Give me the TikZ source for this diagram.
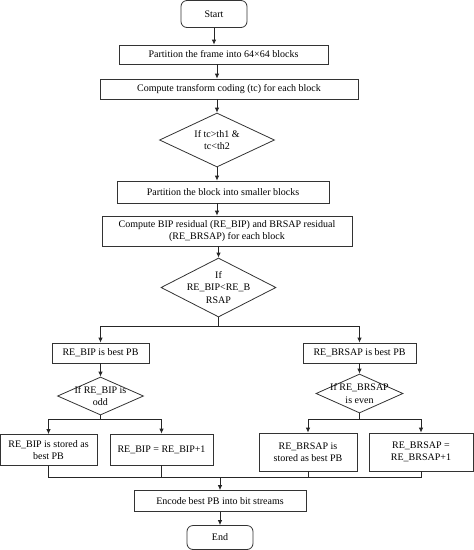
\documentclass[tikz,border=0pt]{standalone}
\usepackage{fontspec}
\setmainfont{Liberation Serif}
\usetikzlibrary{positioning, arrows.meta, shapes.geometric, calc}

\begin{document}
\begin{tikzpicture}[
    x=1pt, y=-1pt,
    font=\fontsize{10}{12.5}\selectfont,
    line width=0.8pt,
    process/.style={draw=black!80, rectangle, align=center, inner sep=1pt},
    terminal/.style={draw=black!80, rectangle, rounded corners=6pt, minimum width=66, inner sep=1pt},
    decision/.style={draw=black!80, diamond, inner sep=0pt},
    txt/.style={align=center, inner sep=0pt},
    arrow/.style={-{Latex[length=5pt,width=4.5pt]}, draw=black!85},
    link/.style={draw=black!85}
]
\useasboundingbox (0,0) rectangle (474,550);

% Macros for the split and join rows
\def\forkY{326}
\def\subY{419}
\def\joinY{477}

% ==========================================
% Main column
\node[terminal, minimum height=27] (start) at (214,14) {Start};
\node[process, minimum width=209, minimum height=19] (frame) at (223.5,54.5) {Partition the frame into 64×64 blocks};
\node[process, minimum width=258, minimum height=20] (tc) at (229,89) {Compute transform coding (tc) for each block};
\node[decision, minimum width=115, minimum height=54] (thr) at (217,140) {};
\node[txt] at (thr.center) {If tc>th1 \&\\tc<th2};
\node[process, minimum width=212, minimum height=22] (split) at (223,192) {Partition the block into smaller blocks};
\node[process, minimum width=250, minimum height=30] (resid) at (227,231) {Compute BIP residual (RE\_BIP) and BRSAP residual\\(RE\_BRSAP) for each block};
\node[decision, minimum width=115, minimum height=59] (cmp) at (218.5,287.5) {};
\node[txt] at (cmp.center) {If\\RE\_BIP<RE\_B\\RSAP};

% ==========================================
% BIP branch
\node[process, minimum width=97, minimum height=20] (bipbest) at (100.5,353) {RE\_BIP is best PB};
\node[decision, minimum width=86, minimum height=38] (odd) at (100.5,396) {};
\node[txt] at (odd.center) {If RE\_BIP is\\odd};
\node[process, minimum width=97, minimum height=31] (bipstore) at (48.5,450) {RE\_BIP is stored as\\best PB};
\node[process, minimum width=103, minimum height=31] (bipinc) at (161.5,449.5) {RE\_BIP = RE\_BIP+1};

% ==========================================
% BRSAP branch
\node[process, minimum width=113, minimum height=20] (brbest) at (359.5,353) {RE\_BRSAP is best PB};
\node[decision, minimum width=87, minimum height=39] (even) at (359.5,393.5) {};
\node[txt] at (even.center) {If RE\_BRSAP\\is even};
\node[process, minimum width=98, minimum height=38] (brstore) at (308,452) {RE\_BRSAP is\\stored as best PB};
\node[process, minimum width=104, minimum height=38] (brinc) at (421,452) {RE\_BRSAP =\\RE\_BRSAP+1};

% ==========================================
% Tail
\node[process, minimum width=172, minimum height=21] (encode) at (220,501) {Encode best PB into bit streams};
\node[terminal, minimum height=24] (stop) at (220,537.5) {End};

% Junction points
\coordinate (fork) at (cmp.south |- 0,\forkY);
\coordinate (forkbip) at (odd.south |- 0,\subY);
\coordinate (forkbr) at (even.south |- 0,\subY);
\coordinate (join) at (encode.north |- 0,\joinY);

% ==========================================
% Connectors
\draw[arrow] (start.south) -- (start.south |- frame.north);
\draw[arrow] (frame.south -| thr) -- (tc.north -| thr);
\draw[arrow] (tc.south -| thr) -- (thr.north);
\draw[arrow] (thr.south) -- (split.north -| thr);
\draw[arrow] (split.south -| thr) -- (resid.north -| thr);
\draw[arrow] (resid.south -| cmp) -- (cmp.north);

\draw[link] (cmp.south) -- (fork);
\draw[arrow] (fork) -| (bipbest.north);
\draw[arrow] (fork) -| (brbest.north);

\draw[arrow] (bipbest.south) -- (odd.north);
\draw[link] (odd.south) -- (forkbip);
\draw[arrow] (forkbip) -| (bipstore.north);
\draw[arrow] (forkbip) -| (bipinc.north);

\draw[arrow] (brbest.south) -- (even.north);
\draw[link] (even.south) -- (forkbr);
\draw[arrow] (forkbr) -| (brstore.north);
\draw[arrow] (forkbr) -| (brinc.north);

\draw[link] (bipstore.south) |- (join);
\draw[link] (bipinc.south) |- (join);
\draw[link] (brstore.south) |- (join);
\draw[link] (brinc.south) |- (join);
\draw[arrow] (join) -- (encode.north);
\draw[arrow] (encode.south) -- (stop.north);

\end{tikzpicture}
\end{document}
